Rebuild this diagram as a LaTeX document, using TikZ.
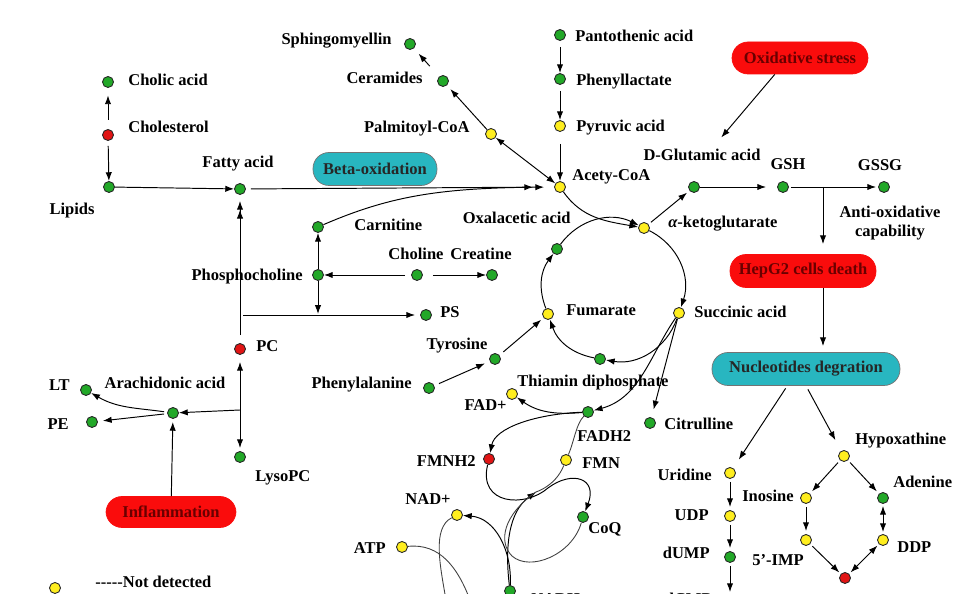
\documentclass[tikz,border=0pt]{standalone}
\usepackage{fontspec}
\setmainfont{Liberation Serif}
\usetikzlibrary{arrows.meta,positioning,calc}

\definecolor{dotgreen}{RGB}{34,168,40}
\definecolor{dotyellow}{RGB}{255,238,30}
\definecolor{dotred}{RGB}{225,20,20}
\definecolor{boxteal}{RGB}{40,182,192}
\definecolor{boxred}{RGB}{250,12,12}
\definecolor{txtred}{RGB}{105,0,0}

\begin{document}
\begin{tikzpicture}[
    x=0.02cm, y=-0.02cm,
    dot/.style={circle, draw=black!85, line width=0.5pt, inner sep=0pt, minimum size=0.22cm},
    gdot/.style={dot, fill=dotgreen},
    ydot/.style={dot, fill=dotyellow},
    rdot/.style={dot, fill=dotred},
    lbl/.style={inner sep=0pt, font=\fontsize{9.4}{10.6}\selectfont\bfseries},
    pill/.style={rectangle, rounded corners=0.32cm, inner sep=0pt, minimum height=0.66cm, font=\fontsize{9.4}{10.6}\selectfont\bfseries},
    tealbox/.style={pill, fill=boxteal, draw=black!55, text=black!85},
    redbox/.style={pill, fill=boxred, draw=boxred, text=txtred},
    arr/.style={-{Latex[length=5pt,width=3.6pt]}, line width=0.55pt},
    arrr/.style={-{Latex[length=5pt,width=3.6pt]Latex[length=5pt,width=3.6pt]}, line width=0.55pt},
    darr/.style={{Latex[length=5pt,width=3.6pt]}-{Latex[length=5pt,width=3.6pt]}, line width=0.55pt},
    lnk/.style={line width=0.5pt, draw=black!75}
]
    \useasboundingbox (0,0) rectangle (975,594);

    % lipid side
    \node [gdot] (sphingo) at (410,44) {};
    \node [gdot] (ceram) at (443,81) {};
    \node [ydot] (palm) at (491,134) {};
    \node [gdot] (cholic) at (108,82) {};
    \node [rdot] (cholest) at (108,135) {};
    \node [gdot] (lipids) at (109,187) {};
    \node [gdot] (fatty) at (240,189) {};
    \node [gdot] (carni) at (318,227) {};
    \node [gdot] (phchol) at (318,275) {};
    \node [gdot] (choline) at (417,275) {};
    \node [gdot] (creat) at (492,275) {};
    \node [gdot] (ps) at (426,315) {};
    \node [rdot] (pc) at (240,349) {};
    \node [gdot] (lysopc) at (240,457) {};
    \node [gdot] (arach) at (173,413) {};
    \node [gdot] (lt) at (86,390) {};
    \node [gdot] (pe) at (92,422) {};

    \node [lbl, anchor=mid east] (tsphingo) at (392,40) {Sphingomyellin};
    \node [lbl, anchor=mid east] (tceram) at (423,79) {Ceramides};
    \node [lbl, anchor=mid east] (tpalm) at (470,128) {Palmitoyl-CoA};
    \node [lbl, anchor=mid west] (tcholic) at (128,81) {Cholic acid};
    \node [lbl, anchor=mid west] (tcholest) at (128,128) {Cholesterol};
    \node [lbl, anchor=mid] (tlipids) at (72,210) {Lipids};
    \node [lbl, anchor=mid] (tfatty) at (238,163) {Fatty acid};
    \node [lbl, anchor=mid west] (tcarni) at (354,226) {Carnitine};
    \node [lbl, anchor=mid east] (tphchol) at (303,276) {Phosphocholine};
    \node [lbl, anchor=mid] (tcholine) at (416,255) {Choline};
    \node [lbl, anchor=mid] (tcreat) at (481,255) {Creatine};
    \node [lbl, anchor=mid west] (tps) at (440,313) {PS};
    \node [lbl, anchor=mid west] (tpc) at (256,347) {PC};
    \node [lbl, anchor=mid west] (tlysopc) at (255,477) {LysoPC};
    \node [lbl, anchor=mid] (tarach) at (165,384) {Arachidonic acid};
    \node [lbl, anchor=mid east] (tlt) at (70,386) {LT};
    \node [lbl, anchor=mid east] (tpe) at (69,425) {PE};

    \node [tealbox, minimum width=2.48cm] (beta) at (375,169) {Beta-oxidation};
    \node [redbox, minimum width=2.6cm, minimum height=0.62cm] (inflam) at (171,512) {Inflammation};

    % central part
    \node [gdot] (panto) at (560,35) {};
    \node [gdot] (phenyl) at (560,79) {};
    \node [ydot] (pyruv) at (560,126) {};
    \node [ydot] (acoa) at (560,187) {};
    \node [gdot] (oxal) at (557,249) {};
    \node [ydot] (akg) at (644,228) {};
    \node [ydot] (succ) at (679,313) {};
    \node [gdot] (botg) at (600,359) {};
    \node [ydot] (fum) at (548,314) {};
    \node [gdot] (tyro) at (495,359) {};
    \node [gdot] (phala) at (429,388) {};
    \node [ydot] (fadp) at (512,394) {};
    \node [gdot] (fadh) at (588,412) {};
    \node [gdot] (citr) at (650,423) {};
    \node [rdot] (fmnh) at (489,459) {};
    \node [ydot] (fmn) at (566,460) {};
    \node [gdot] (coq) at (583,517) {};
    \node [ydot] (nadp) at (457,515) {};
    \node [ydot] (atp) at (402,547) {};
    \node [gdot] (nadh) at (510,591) {};

    \node [lbl, anchor=mid west] (tpanto) at (575,37) {Pantothenic acid};
    \node [lbl, anchor=mid west] (tphenyl) at (576,81) {Phenyllactate};
    \node [lbl, anchor=mid west] (tpyruv) at (576,127) {Pyruvic acid};
    \node [lbl, anchor=mid west] (tacoa) at (572,176) {Acety-CoA};
    \node [lbl, anchor=mid east] (toxal) at (571,219) {Oxalacetic acid};
    \node [lbl, anchor=mid west] (tfum) at (566,311) {Fumarate};
    \node [lbl, anchor=mid west] (takg) at (668,223) {{\itshape α}-ketoglutarate};
    \node [lbl, anchor=mid west] (tsucc) at (694,313) {Succinic acid};
    \node [lbl, anchor=mid] (ttyro) at (457,345) {Tyrosine};
    \node [lbl, anchor=mid east] (tphala) at (412,384) {Phenylalanine};
    \node [lbl, anchor=mid west] (tthia) at (517,382) {Thiamin diphosphate};
    \node [lbl, anchor=mid east] (tfadp) at (507,406) {FAD+};
    \node [lbl, anchor=mid west] (tfadh) at (577,437) {FADH2};
    \node [lbl, anchor=mid west] (tcitr) at (664,425) {Citrulline};
    \node [lbl, anchor=mid east] (tfmnh) at (476,462) {FMNH2};
    \node [lbl, anchor=mid west] (tfmn) at (582,464) {FMN};
    \node [lbl, anchor=mid west] (tcoq) at (588,529) {CoQ};
    \node [lbl, anchor=mid] (tnadp) at (428,500) {NAD+};
    \node [lbl, anchor=mid east] (tatp) at (386,549) {ATP};
    \node [lbl, anchor=mid west] (tnadh) at (531,600) {NADH};

    % right part
    \node [gdot] (dglu) at (694,187) {};
    \node [gdot] (gsh) at (783,187) {};
    \node [gdot] (gssg) at (884,187) {};
    \node [ydot] (uridine) at (730,473) {};
    \node [ydot] (udp) at (730,516) {};
    \node [gdot] (dump) at (730,557) {};
    \node [ydot] (dcmp) at (730,601) {};
    \node [ydot] (hypox) at (844,456) {};
    \node [ydot] (inosine) at (806,498) {};
    \node [gdot] (adenine) at (883,498) {};
    \node [ydot] (imp) at (806,540) {};
    \node [ydot] (ddp) at (883,540) {};
    \node [rdot] (rdn) at (845,578) {};

    \node [lbl, anchor=mid] (tdglu) at (702,156) {D-Glutamic acid};
    \node [lbl, anchor=mid] (tgsh) at (788,165) {GSH};
    \node [lbl, anchor=mid] (tgssg) at (880,166) {GSSG};
    \node [lbl, align=center] (tanti) at (890,223) {Anti-oxidative\\capability};
    \node [lbl, anchor=mid east] (turidine) at (712,476) {Uridine};
    \node [lbl, anchor=mid east] (tudp) at (709,516) {UDP};
    \node [lbl, anchor=mid east] (tdump) at (710,554) {dUMP};
    \node [lbl, anchor=mid east] (tdcmp) at (712,600) {dCMP};
    \node [lbl, anchor=mid west] (thypox) at (855,440) {Hypoxathine};
    \node [lbl, anchor=mid east] (tinosine) at (794,497) {Inosine};
    \node [lbl, anchor=mid west] (tadenine) at (893,483) {Adenine};
    \node [lbl, anchor=mid] (timp) at (778,561) {5’-IMP};
    \node [lbl, anchor=mid west] (tddp) at (897,548) {DDP};

    \node [redbox, minimum width=2.72cm, minimum height=0.64cm] (oxstress) at (800,58) {Oxidative stress};
    \node [redbox, minimum width=2.92cm] (hepg) at (803,271) {HepG2 cells death};
    \node [tealbox, minimum width=3.76cm] (nucdeg) at (806,369) {Nucleotides degration};

    % legend
    \node [ydot] (legy) at (55,588) {};
    \node [lbl, anchor=mid west] (tlegy) at (95,583) {-{}-{}-{}-{}-Not detected};

    \coordinate (jps) at (318,314);
    \coordinate (jpc) at (243,315);
    \coordinate (jarach) at (240,410);
    \coordinate (jgsh) at (823,187);
    \coordinate (dgin) at (720,139);
    \coordinate (q1) at (536,492);
    \coordinate (nadout) at (446,600);
    \coordinate (atpout) at (470,600);

    % lipid connectors
    \draw [arr, shorten <=0.28cm, shorten >=0.14cm] (ceram) -- (sphingo);
    \draw [arr, shorten >=0.1cm] (palm) -- (ceram);
    \draw [darr] (palm) -- (acoa);
    \draw [arr, shorten <=0.19cm, shorten >=0.15cm] (cholest) -- (cholic);
    \draw [arr, shorten <=0.1cm] (cholest) -- (lipids);
    \draw [arr] (lipids) -- (fatty);
    \draw [arr, shorten <=0.1cm, shorten >=0.42cm] (fatty) -- (acoa);
    \draw [arr, shorten >=0.2cm] (carni) .. controls (390,196) and (440,188) .. (acoa);
    \draw [arr] (phchol) -- (carni);
    \draw [arr, shorten <=0.12cm] (choline) -- (phchol);
    \draw [arr, shorten <=0.2cm] (choline) -- (creat);
    \draw [arr] (phchol) -- (jps);
    \draw [arr, shorten >=0.1cm] (jpc) -- (ps);
    \draw [arrr, shorten <=0.16cm, shorten >=0.12cm] (pc) -- (fatty);
    \draw [darr, shorten <=0.14cm, shorten >=0.06cm] (pc) -- (lysopc);
    \draw [arr] (jarach) -- (arach);
    \draw [arr, shorten <=0.06cm] (arach) to[out=172, in=-30] (lt);
    \draw [arr, shorten <=0.06cm, shorten >=0.1cm] (arach) -- (pe);
    \draw [arr, shorten >=0.06cm] (inflam) -- (arach);

    % central connectors
    \draw [arr, shorten <=0.12cm] (panto) -- (phenyl);
    \draw [arr, shorten <=0.12cm] (phenyl) -- (pyruv);
    \draw [arr, shorten <=0.24cm] (pyruv) -- (acoa);
    \draw [arr] (acoa) to[out=-55, in=170] (akg);
    \draw [arr] (oxal) to[bend left=40] (akg);
    \draw [arr] (akg) to[bend left=41] (succ);
    \draw [arr] (succ) to[bend left=40] (botg);
    \draw [arr] (botg) to[bend left=30] (fum);
    \draw [arr] (fum) to[bend left=29] (oxal);
    \draw [arr, shorten <=0.06cm, shorten >=0.06cm] (akg) -- (dglu);
    \draw [arr, shorten <=0.1cm, shorten >=0.1cm] (phala) -- (tyro);
    \draw [arr, shorten <=0.1cm, shorten >=0.06cm] (tyro) -- (fum);
    \draw [arr] (succ) .. controls (650,355) and (640,398) .. (fadh);
    \draw [arr, shorten >=0.16cm] (succ) -- (citr);
    \draw [arr] (fadh) to[out=185, in=-35] (fadp);
    \draw [arr] (fadh) .. controls (535,414) and (495,428) .. (fmnh);
    \draw [arr] (fmnh) .. controls (478,505) and (525,508) .. (548,488) .. controls (572,470) and (598,478) .. (coq);
    \draw [lnk] (q1) .. controls (552,486) and (560,475) .. (fmn);
    \draw [lnk] (fmn) .. controls (574,442) and (576,424) .. (fadh);
    \draw [arr] (nadh) .. controls (505,548) and (508,512) .. (q1);
    \draw [lnk] (coq) .. controls (572,555) and (530,572) .. (512,556) .. controls (498,542) and (503,515) .. (q1);
    \draw [arr] (nadh) .. controls (512,550) and (495,518) .. (nadp);
    \draw [lnk] (nadp) .. controls (432,528) and (440,565) .. (nadout);
    \draw [lnk] (atp) .. controls (440,543) and (458,568) .. (atpout);

    % right connectors
    \draw [arr, shorten >=0.04cm] (oxstress.213) -- (dgin);
    \draw [arr, shorten >=0.22cm] (dglu) -- (gsh);
    \draw [arr, shorten <=0.04cm, shorten >=0.04cm] (gsh) -- (gssg);
    \draw [arr, shorten >=0.2cm] (jgsh) -- (jgsh |- hepg.north);
    \draw [arr, shorten >=0.12cm] (hepg.south -| jgsh) -- (jgsh |- nucdeg.north);
    \draw [arr, shorten <=0.06cm, shorten >=0.2cm] (nucdeg.222) -- (uridine);
    \draw [arr, shorten <=0.08cm, shorten >=0.24cm] (nucdeg.south) -- (hypox);
    \draw [arr, shorten <=0.06cm, shorten >=0.06cm] (hypox) -- (inosine);
    \draw [arr, shorten <=0.06cm, shorten >=0.06cm] (hypox) -- (adenine);
    \draw [arr, shorten <=0.06cm, shorten >=0.06cm] (inosine) -- (imp);
    \draw [darr, shorten <=0.04cm, shorten >=0.04cm] (adenine) -- (ddp);
    \draw [arr, shorten <=0.06cm, shorten >=0.04cm] (imp) -- (rdn);
    \draw [darr, shorten <=0.04cm, shorten >=0.04cm] (ddp) -- (rdn);
    \draw [arr, shorten <=0.06cm, shorten >=0.06cm] (uridine) -- (udp);
    \draw [arr, shorten <=0.06cm, shorten >=0.06cm] (udp) -- (dump);
    \draw [arr, shorten <=0.06cm, shorten >=0.06cm] (dump) -- (dcmp);
\end{tikzpicture}
\end{document}
